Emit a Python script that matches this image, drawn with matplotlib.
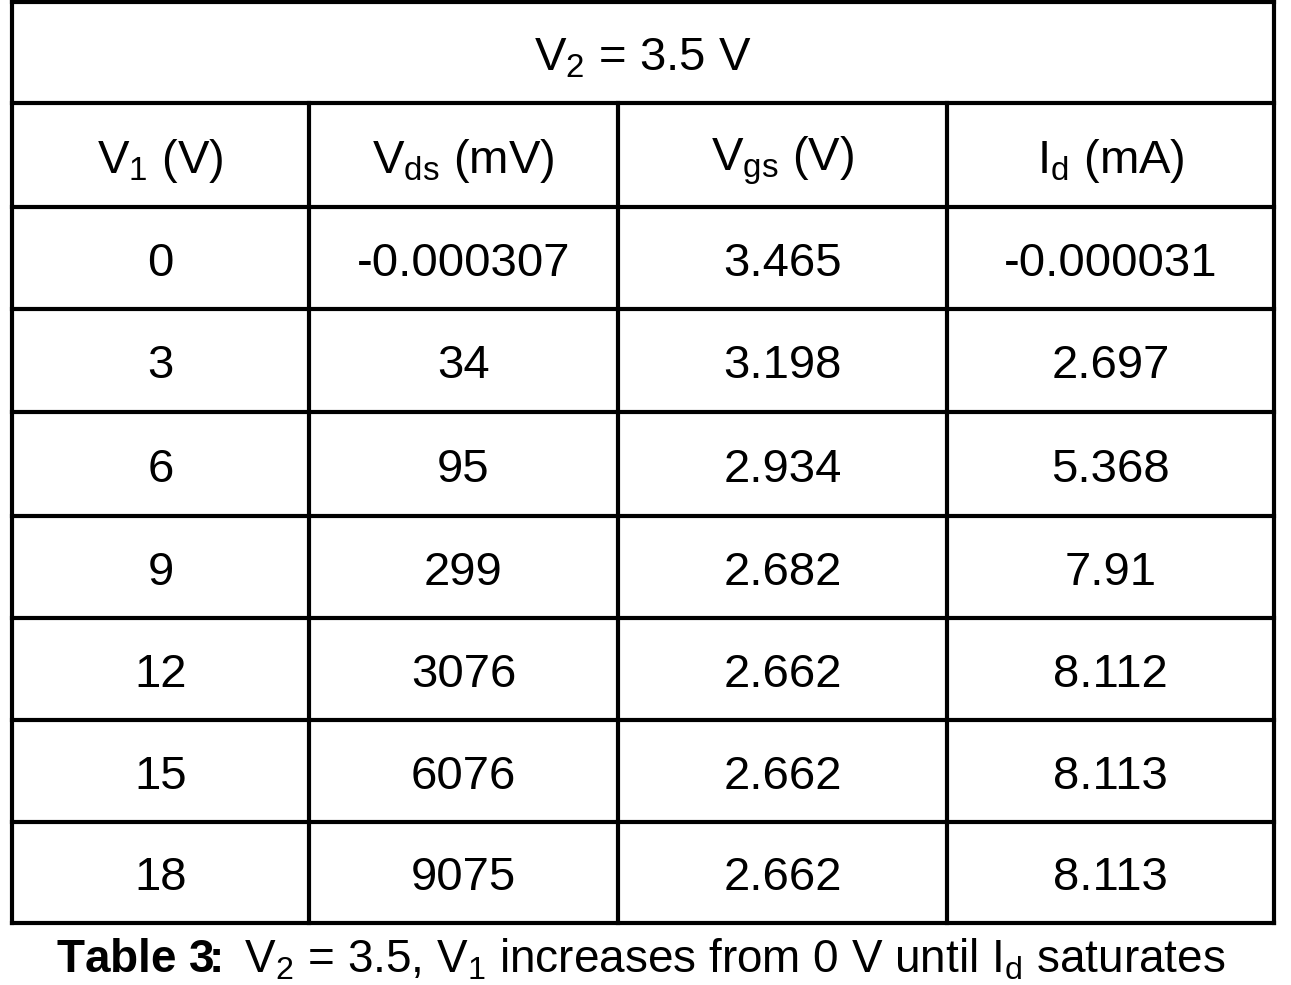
import matplotlib
matplotlib.use("Agg")
from matplotlib import pyplot as plt

plt.rcParams['font.family'] = ['Liberation Sans', 'DejaVu Sans']
plt.rcParams['mathtext.fontset'] = 'custom'
plt.rcParams['mathtext.rm'] = 'Liberation Sans'
plt.rcParams['mathtext.it'] = 'Liberation Sans:italic'
plt.rcParams['mathtext.bf'] = 'Liberation Sans:bold'

title = r'V$_{\mathrm{2}}$ = 3.5 V'
headers = [r'V$_{\mathrm{1}}$ (V)', r'V$_{\mathrm{ds}}$ (mV)', r'V$_{\mathrm{gs}}$ (V)', r'I$_{\mathrm{d}}$ (mA)']
v1 = ['0', '3', '6', '9', '12', '15', '18']
vds = ['-0.000307', '34', '95', '299', '3076', '6076', '9075']
vgs = ['3.465', '3.198', '2.934', '2.682', '2.662', '2.662', '2.662']
i_d = ['-0.000031', '2.697', '5.368', '7.91', '8.112', '8.113', '8.113']
caption = (r'$\mathbf{Table\ 3}\!\!\mathbf{:}$ V$_{\mathrm{2}}$ = 3.5, V$_{\mathrm{1}}$ '
           r'increases from 0 V until I$_{\mathrm{d}}$ saturates')

col_x = [12, 309, 618, 947, 1274]
row_y = [2, 103, 207, 309, 412, 516, 618, 720, 822, 923]

fig = plt.figure(figsize=(12.91, 9.85), dpi=100)
ax = fig.add_axes([0, 0, 1, 1])
ax.set_xlim(0, 1291)
ax.set_ylim(985, 0)
ax.axis('off')

lw = 3
# horizontal lines
for y in row_y:
    ax.plot([col_x[0], col_x[-1]], [y, y], color='black', lw=lw, solid_capstyle='projecting')
# outer verticals
for x in (col_x[0], col_x[-1]):
    ax.plot([x, x], [row_y[0], row_y[-1]], color='black', lw=lw, solid_capstyle='projecting')
# inner verticals (below title row)
for x in col_x[1:-1]:
    ax.plot([x, x], [row_y[1], row_y[-1]], color='black', lw=lw)

fs = 34
dy = 6
ax.text((col_x[0] + col_x[-1]) / 2, (row_y[0] + row_y[1]) / 2 + dy, title,
        ha='center', va='center', fontsize=fs)

columns = [v1, vds, vgs, i_d]
for c, h in enumerate(headers):
    cx = (col_x[c] + col_x[c + 1]) / 2
    ax.text(cx, (row_y[1] + row_y[2]) / 2 + dy, h, ha='center', va='center', fontsize=fs)
    for r, val in enumerate(columns[c]):
        cy = (row_y[r + 2] + row_y[r + 3]) / 2 + dy
        ax.text(cx, cy, val, ha='center', va='center', fontsize=fs)

ax.text(641, 960, caption, ha='center', va='center', fontsize=33)

fig.savefig('out.png', dpi=100)
